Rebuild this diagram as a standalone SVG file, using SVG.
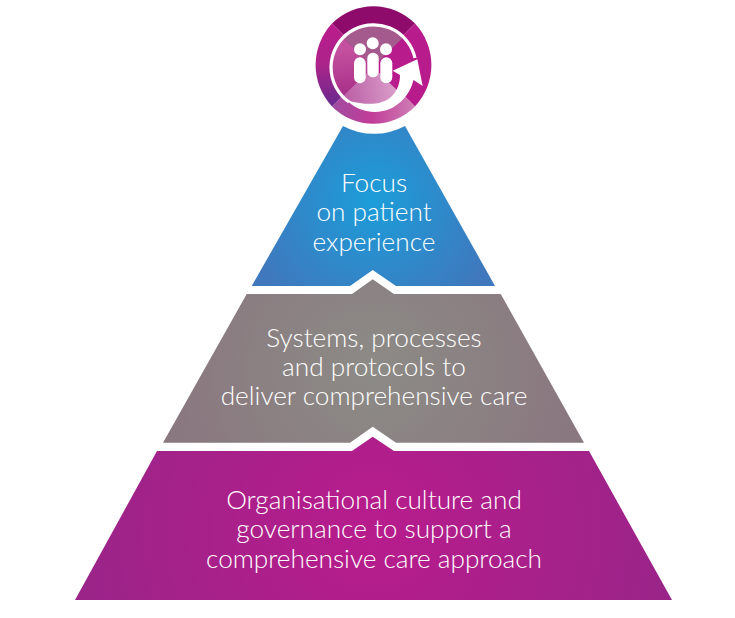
<svg xmlns="http://www.w3.org/2000/svg" width="735" height="618" viewBox="0 0 735 618">
<style>
.t{font-family:"Lato","Open Sans",sans-serif;font-weight:300;font-size:26.2px;fill:#fff;text-anchor:middle}
</style>
<defs>
<radialGradient id="gBlue" gradientUnits="userSpaceOnUse" cx="373" cy="200" r="130"><stop offset="0" stop-color="#1c9dd9"/><stop offset="1" stop-color="#3f78bd"/></radialGradient>
<radialGradient id="gGrey" gradientUnits="userSpaceOnUse" cx="373" cy="370" r="200"><stop offset="0" stop-color="#8c8b86"/><stop offset="1" stop-color="#8a7880"/></radialGradient>
<radialGradient id="gMag" gradientUnits="userSpaceOnUse" cx="373" cy="530" r="290"><stop offset="0" stop-color="#b81c8c"/><stop offset="1" stop-color="#9b2489"/></radialGradient>
<linearGradient id="gRingL" gradientUnits="userSpaceOnUse" x1="325" y1="30" x2="330" y2="105"><stop offset="0" stop-color="#b81c8c"/><stop offset="0.45" stop-color="#ac2489"/><stop offset="1" stop-color="#6a2a90"/></linearGradient>
<linearGradient id="gRingB" gradientUnits="userSpaceOnUse" x1="335" y1="110" x2="415" y2="110"><stop offset="0" stop-color="#a24ba0"/><stop offset="0.45" stop-color="#c13c98"/><stop offset="1" stop-color="#cf7fb6"/></linearGradient>
<linearGradient id="gInL" gradientUnits="userSpaceOnUse" x1="340" y1="50" x2="345" y2="95"><stop offset="0" stop-color="#c4509f"/><stop offset="1" stop-color="#a83088"/></linearGradient>
<linearGradient id="gInB" gradientUnits="userSpaceOnUse" x1="345" y1="100" x2="400" y2="90"><stop offset="0" stop-color="#bb5ea6"/><stop offset="1" stop-color="#dca2cb"/></linearGradient>
</defs>
<g id="node-icon">
<path d="M332 23.500A59 60 0 0 1 415 23.500L373.500 65Z" fill="#8e0a6b"/>
<path d="M415 23.500A59 60 0 0 1 415 106.500L373.500 65Z" fill="#b81c8c"/>
<path d="M415 106.500A59 60 0 0 1 332 106.500L373.500 65Z" fill="url(#gRingB)"/>
<path d="M332 106.500A59 60 0 0 1 332 23.500L373.500 65Z" fill="url(#gRingL)"/>
<path d="M342 37A43 43 0 0 1 404 37L373 67Z" fill="#a55a8d"/>
<path d="M404 37A43 43 0 0 1 404 97L373 67Z" fill="#b81c8c"/>
<path d="M404 97A43 43 0 0 1 342 97L373 67Z" fill="url(#gInB)"/>
<path d="M342 97A43 43 0 0 1 342 37L373 67Z" fill="url(#gInL)"/>
<path d="M415 58A42.500 42.500 0 1 0 349 102" fill="none" stroke="#fff" stroke-width="3.200"/>
<path d="M345 98C352 107 364 112 375 112C397 111.500 410 95 413.500 80L422.700 86L417.300 59.300L392.700 70.700L400 75C400 82 398 90 392 96C382 106 365 105 350 101Z" fill="#fff"/>
<circle cx="360" cy="49.300" r="6" fill="#fff"/><circle cx="372.700" cy="43.300" r="6" fill="#fff"/><circle cx="386" cy="49.300" r="6" fill="#fff"/>
<rect x="354" y="57.300" width="11.700" height="26" rx="5.850" fill="#fff"/>
<rect x="367.300" y="52.700" width="11.400" height="24.600" rx="5.700" fill="#fff"/>
<rect x="380.300" y="57.300" width="12" height="26" rx="6" fill="#fff"/>
</g>
<g id="node-patient-experience">
<path d="M343 126A65 65 0 0 0 405 126L495 286H396L372.700 270L350 286H251.700Z" fill="url(#gBlue)"/>
<text class="t" x="374" y="192">Focus</text>
<text class="t" x="374" y="221">on patient</text>
<text class="t" x="374" y="251">experience</text>
</g>
<g id="node-systems">
<path d="M246.700 294H352L372.700 279.300L394 294H500.700L584 442.700H396L372.700 426.700L350 442.700H163Z" fill="url(#gGrey)"/>
<text class="t" x="374" y="347">Systems, processes</text>
<text class="t" x="374" y="376">and protocols to</text>
<text class="t" x="374" y="405">deliver comprehensive care</text>
</g>
<g id="node-culture">
<path d="M157 451H352L372.700 436.700L394 451H589L672 600H75Z" fill="url(#gMag)"/>
<text class="t" x="374" y="509">Organisational culture and</text>
<text class="t" x="374" y="538">governance to support a</text>
<text class="t" x="374" y="568">comprehensive care approach</text>
</g>
</svg>
